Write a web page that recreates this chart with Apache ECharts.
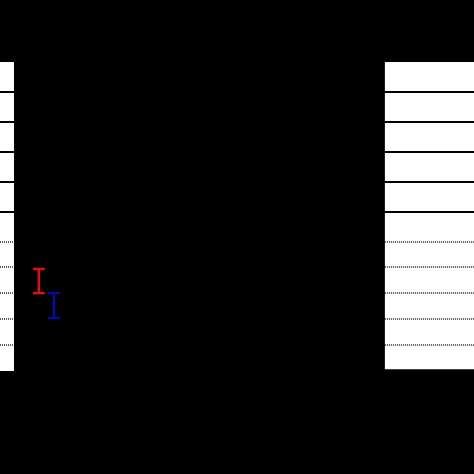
<!DOCTYPE html>
<html>
<head>
<meta charset="utf-8">
<script src="https://cdn.jsdelivr.net/npm/echarts@6/dist/echarts.min.js"></script>
<style>
html,body{margin:0;padding:0;background:#000;}
#main{width:474px;height:474px;}
</style>
</head>
<body>
<div id="main"></div>
<script>
// 误差棒数据
var barX = [8.2, 11.4];
var barLow = [2.52, 1.72];
var barHigh = [3.30, 2.52];
var barColor = ['#dd1111', '#0b0b9a'];

// 白色面板范围 [x起, x止, y起, y止]
var panels = [[0, 2.95, 0, 10], [81.2, 100, 0.06, 10.03]];
// 实线、虚线水平线
var solidLevels = [9.03, 8.06, 7.09, 6.12, 5.15];
var dottedLevels = [4.17, 3.37, 2.52, 1.68, 0.84];

var chart = echarts.init(document.getElementById('main'));

var areaData = panels.map(function (p) {
	return [{ coord: [p[0], p[3]] }, { coord: [p[1], p[2]] }];
});

var lineData = [];
panels.forEach(function (p) {
	solidLevels.forEach(function (v) {
		lineData.push([{ coord: [p[0], v], lineStyle: { type: 'solid', width: 2, color: '#000' } },
			{ coord: [p[1], v] }]);
	});
	dottedLevels.forEach(function (v) {
		lineData.push([{ coord: [p[0], v], lineStyle: { type: [1, 1], width: 1.5, color: '#222' } },
			{ coord: [p[1], v] }]);
	});
});

var option = {
	backgroundColor: '#000',
	animation: false,
	grid: { left: 0, right: 0, top: 62, bottom: 103 },
	xAxis: { type: 'value', min: 0, max: 100, show: false },
	yAxis: { type: 'value', min: 0, max: 10, show: false },
	series: [
		{
			type: 'line', data: [], z: 1,
			markArea: { silent: true, itemStyle: { color: '#fff' }, data: areaData }
		},
		{
			type: 'line', data: [], z: 3,
			markLine: { silent: true, symbol: 'none', label: { show: false }, data: lineData }
		},
		{
			type: 'custom', z: 4,
			data: barX.map(function (x, i) { return [x, barLow[i], barHigh[i], i]; }),
			renderItem: function (params, api) {
				var lo = api.coord([api.value(0), api.value(1)]);
				var hi = api.coord([api.value(0), api.value(2)]);
				var c = barColor[api.value(3)];
				var w = 6;
				var st = { stroke: c, lineWidth: 2.5 };
				return {
					type: 'group',
					children: [
						{ type: 'line', shape: { x1: hi[0], y1: hi[1], x2: lo[0], y2: lo[1] }, style: st },
						{ type: 'line', shape: { x1: hi[0] - w, y1: hi[1], x2: hi[0] + w, y2: hi[1] }, style: st },
						{ type: 'line', shape: { x1: lo[0] - w, y1: lo[1], x2: lo[0] + w, y2: lo[1] }, style: st }
					]
				};
			}
		}
	]
};
chart.setOption(option);
</script>
</body>
</html>
